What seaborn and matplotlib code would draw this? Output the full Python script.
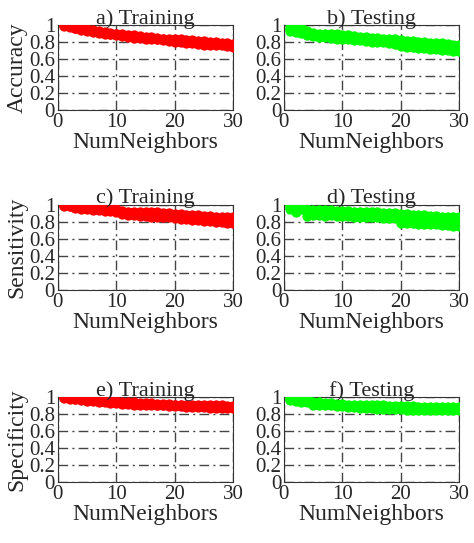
import matplotlib
matplotlib.use("Agg")
import matplotlib.pyplot as plt
import seaborn as sns
import pandas as pd
import numpy as np

k = list(range(1, 31))
# upper / lower envelope of repeated runs per NumNeighbors
acc_train_hi = [1.00,0.99,0.97,0.96,0.95,0.94,0.93,0.92,0.91,0.90,0.89,0.88,0.88,0.87,0.86,0.86,0.85,0.84,0.84,0.83,0.83,0.82,0.82,0.81,0.81,0.80,0.80,0.79,0.79,0.78]
acc_train_lo = [0.99,0.98,0.96,0.94,0.93,0.92,0.91,0.90,0.89,0.88,0.87,0.86,0.85,0.85,0.84,0.83,0.83,0.82,0.81,0.80,0.80,0.79,0.79,0.78,0.77,0.77,0.76,0.76,0.75,0.74]
acc_test_hi = [0.98,0.98,0.98,0.93,0.91,0.90,0.90,0.89,0.89,0.88,0.88,0.87,0.86,0.86,0.85,0.85,0.84,0.84,0.83,0.82,0.81,0.81,0.80,0.80,0.79,0.79,0.79,0.78,0.77,0.77]
acc_test_lo = [0.93,0.92,0.91,0.88,0.87,0.86,0.86,0.85,0.84,0.84,0.83,0.82,0.82,0.81,0.80,0.80,0.80,0.79,0.78,0.75,0.74,0.74,0.73,0.73,0.72,0.72,0.71,0.71,0.70,0.70]
sen_train_hi = [1.00,1.00,0.98,0.98,0.97,0.97,0.97,0.96,0.96,0.95,0.93,0.92,0.92,0.92,0.91,0.91,0.91,0.90,0.90,0.89,0.89,0.88,0.88,0.88,0.87,0.87,0.86,0.86,0.86,0.85]
sen_train_lo = [0.99,0.98,0.96,0.95,0.95,0.94,0.94,0.93,0.93,0.92,0.89,0.88,0.88,0.87,0.87,0.86,0.86,0.85,0.85,0.84,0.83,0.83,0.82,0.82,0.81,0.81,0.80,0.80,0.79,0.78]
sen_test_hi = [1.00,1.00,1.00,0.95,0.94,0.94,0.94,0.94,0.93,0.93,0.93,0.92,0.92,0.92,0.91,0.91,0.90,0.90,0.90,0.89,0.89,0.88,0.88,0.88,0.87,0.87,0.86,0.86,0.85,0.85]
sen_test_lo = [0.95,0.92,0.95,0.87,0.88,0.88,0.87,0.88,0.87,0.87,0.87,0.86,0.86,0.86,0.85,0.85,0.84,0.84,0.84,0.78,0.78,0.78,0.77,0.77,0.77,0.77,0.76,0.76,0.75,0.75]
spe_train_hi = [1.00,1.00,0.99,0.98,0.97,0.97,0.96,0.96,0.95,0.95,0.94,0.94,0.94,0.93,0.93,0.93,0.92,0.92,0.92,0.91,0.91,0.91,0.91,0.90,0.90,0.90,0.90,0.90,0.89,0.89]
spe_train_lo = [0.99,0.98,0.97,0.96,0.95,0.95,0.94,0.94,0.93,0.93,0.92,0.92,0.91,0.91,0.91,0.90,0.90,0.90,0.89,0.89,0.89,0.88,0.88,0.88,0.88,0.87,0.87,0.87,0.87,0.87]
spe_test_hi = [0.99,0.99,0.99,0.99,0.94,0.94,0.93,0.93,0.92,0.92,0.91,0.91,0.91,0.90,0.90,0.90,0.90,0.89,0.89,0.89,0.89,0.89,0.88,0.88,0.88,0.88,0.88,0.88,0.88,0.88]
spe_test_lo = [0.96,0.95,0.94,0.94,0.91,0.91,0.90,0.90,0.89,0.89,0.88,0.88,0.87,0.87,0.87,0.86,0.86,0.86,0.86,0.86,0.85,0.85,0.85,0.85,0.85,0.85,0.85,0.85,0.85,0.85]

panels = [
    ("a) Training", "Accuracy", acc_train_hi, acc_train_lo, "#ff0000"),
    ("b) Testing", None, acc_test_hi, acc_test_lo, "#00ff00"),
    ("c) Training", "Sensitivity", sen_train_hi, sen_train_lo, "#ff0000"),
    ("d) Testing", None, sen_test_hi, sen_test_lo, "#00ff00"),
    ("e) Training", "Specificity", spe_train_hi, spe_train_lo, "#ff0000"),
    ("f) Testing", None, spe_test_hi, spe_test_lo, "#00ff00"),
]

sns.set_style("white")
plt.rcParams["font.family"] = ["Liberation Serif", "DejaVu Serif"]

fig = plt.figure(figsize=(4.74, 5.43), dpi=100)
lefts = [0.122, 0.599]
bottoms = [0.797, 0.466, 0.112]
for i, (title, ylab, hi, lo, col) in enumerate(panels):
    ax = fig.add_axes([lefts[i % 2], bottoms[i // 2], 0.37, 0.157])
    mid = [(a + b) / 2 for a, b in zip(hi, lo)]
    df = pd.DataFrame({"k": k * 3, "v": hi + mid + lo})
    sns.scatterplot(data=df, x="k", y="v", color=col, s=55, edgecolor=col, linewidth=0, ax=ax, zorder=3)
    ax.set_xlim(0, 30)
    ax.set_ylim(0, 1)
    ax.set_xticks([0, 10, 20, 30])
    ax.set_yticks([0, 0.2, 0.4, 0.6, 0.8, 1])
    ax.set_yticklabels(["0", "0.2", "0.4", "0.6", "0.8", "1"])
    ax.grid(True, color="#444444", linestyle=(0, (7, 3, 1.5, 3)), linewidth=1.0)
    for s in ax.spines.values():
        s.set_color("#333333"); s.set_linewidth(0.8)
    ax.tick_params(length=0, pad=2, labelsize=15)
    ax.set_title(title, fontsize=16, pad=1)
    ax.set_xlabel("NumNeighbors", fontsize=17, labelpad=0)
    ax.set_ylabel(ylab if ylab else "", fontsize=17, labelpad=1)

fig.savefig("out.png", dpi=100)
